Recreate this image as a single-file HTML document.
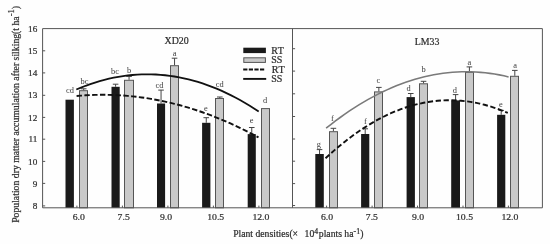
<!DOCTYPE html><html><head><meta charset="utf-8"><title>Population dry matter accumulation after silking</title><style>html,body{margin:0;padding:0;background:#fefefe;}svg{display:block;filter:blur(0.35px)}text{font-family:"Liberation Serif","Times New Roman",serif;fill:#2e2e2e;stroke:#2e2e2e;stroke-width:0.22px;}text.l{fill:#3a3a3a;stroke:none}</style></head><body>
<svg width="550" height="244" viewBox="0 0 550 244">
<rect width="550" height="244" fill="#fefefe"/>
<rect x="65.50" y="99.70" width="8.40" height="108.10" fill="#1a1a1a"/>
<rect x="79.50" y="90.70" width="8.00" height="117.10" fill="#c9c9c9" stroke="#555" stroke-width="1"/>
<path d="M83.70 90.20V88.80M80.90 88.80H86.50" stroke="#444" stroke-width="1" fill="none"/>
<rect x="111.50" y="86.80" width="8.20" height="121.00" fill="#1a1a1a"/>
<rect x="124.50" y="80.30" width="9.00" height="127.50" fill="#c9c9c9" stroke="#555" stroke-width="1"/>
<path d="M115.60 86.80V84.20M112.80 84.20H118.40" stroke="#444" stroke-width="1" fill="none"/>
<path d="M129.05 79.80V76.40M126.25 76.40H131.85" stroke="#444" stroke-width="1" fill="none"/>
<rect x="157.00" y="103.50" width="8.10" height="104.30" fill="#1a1a1a"/>
<rect x="170.50" y="65.70" width="8.00" height="142.10" fill="#c9c9c9" stroke="#555" stroke-width="1"/>
<path d="M161.05 103.50V90.10M158.25 90.10H163.85" stroke="#444" stroke-width="1" fill="none"/>
<path d="M174.55 65.20V58.20M171.75 58.20H177.35" stroke="#444" stroke-width="1" fill="none"/>
<rect x="202.10" y="122.80" width="8.30" height="85.00" fill="#1a1a1a"/>
<rect x="215.50" y="98.50" width="8.00" height="109.30" fill="#c9c9c9" stroke="#555" stroke-width="1"/>
<path d="M206.25 122.80V117.70M203.45 117.70H209.05" stroke="#444" stroke-width="1" fill="none"/>
<path d="M219.80 98.00V97.00M217.00 97.00H222.60" stroke="#444" stroke-width="1" fill="none"/>
<rect x="247.70" y="134.10" width="8.10" height="73.70" fill="#1a1a1a"/>
<rect x="261.50" y="108.60" width="8.00" height="99.20" fill="#c9c9c9" stroke="#555" stroke-width="1"/>
<path d="M251.75 134.10V127.50M248.95 127.50H254.55" stroke="#444" stroke-width="1" fill="none"/>
<rect x="315.30" y="154.00" width="8.50" height="53.80" fill="#1a1a1a"/>
<rect x="329.50" y="131.70" width="8.00" height="76.10" fill="#c9c9c9" stroke="#555" stroke-width="1"/>
<path d="M319.55 154.00V149.60M316.75 149.60H322.35" stroke="#444" stroke-width="1" fill="none"/>
<path d="M333.40 131.20V128.30M330.60 128.30H336.20" stroke="#444" stroke-width="1" fill="none"/>
<rect x="361.10" y="134.00" width="8.20" height="73.80" fill="#1a1a1a"/>
<rect x="374.50" y="91.90" width="8.00" height="115.90" fill="#c9c9c9" stroke="#555" stroke-width="1"/>
<path d="M365.20 134.00V128.80M362.40 128.80H368.00" stroke="#444" stroke-width="1" fill="none"/>
<path d="M378.85 91.40V87.40M376.05 87.40H381.65" stroke="#444" stroke-width="1" fill="none"/>
<rect x="406.60" y="97.10" width="8.30" height="110.70" fill="#1a1a1a"/>
<rect x="419.50" y="83.80" width="8.00" height="124.00" fill="#c9c9c9" stroke="#555" stroke-width="1"/>
<path d="M410.75 97.10V93.50M407.95 93.50H413.55" stroke="#444" stroke-width="1" fill="none"/>
<path d="M423.55 83.30V81.30M420.75 81.30H426.35" stroke="#444" stroke-width="1" fill="none"/>
<rect x="451.20" y="100.40" width="8.80" height="107.40" fill="#1a1a1a"/>
<rect x="465.50" y="72.40" width="8.00" height="135.40" fill="#c9c9c9" stroke="#555" stroke-width="1"/>
<path d="M455.60 100.40V94.60M452.80 94.60H458.40" stroke="#444" stroke-width="1" fill="none"/>
<path d="M469.40 71.90V66.90M466.60 66.90H472.20" stroke="#444" stroke-width="1" fill="none"/>
<rect x="497.10" y="114.80" width="8.20" height="93.00" fill="#1a1a1a"/>
<rect x="510.50" y="76.30" width="8.00" height="131.50" fill="#c9c9c9" stroke="#555" stroke-width="1"/>
<path d="M501.20 114.80V110.40M498.40 110.40H504.00" stroke="#444" stroke-width="1" fill="none"/>
<path d="M514.80 75.80V70.40M512.00 70.40H517.60" stroke="#444" stroke-width="1" fill="none"/>
<path d="M76.30 89.52 L80.98 87.59 L85.65 85.78 L90.33 84.11 L95.01 82.57 L99.68 81.16 L104.36 79.88 L109.04 78.74 L113.72 77.72 L118.39 76.84 L123.07 76.09 L127.75 75.47 L132.42 74.98 L137.10 74.63 L141.78 74.40 L146.45 74.31 L151.13 74.34 L155.81 74.51 L160.48 74.81 L165.16 75.25 L169.84 75.81 L174.52 76.51 L179.19 77.33 L183.87 78.29 L188.55 79.38 L193.22 80.60 L197.90 81.96 L202.58 83.44 L207.25 85.06 L211.93 86.80 L216.61 88.68 L221.28 90.69 L225.96 92.83 L230.64 95.11 L235.32 97.51 L239.99 100.05 L244.67 102.72 L249.35 105.52 L254.02 108.45 L258.70 111.51" fill="none" stroke="#111" stroke-width="1.8"/>
<path d="M76.30 96.05 L80.97 95.65 L85.64 95.32 L90.32 95.08 L94.99 94.91 L99.66 94.82 L104.33 94.80 L109.00 94.86 L113.67 95.00 L118.35 95.22 L123.02 95.51 L127.69 95.88 L132.36 96.33 L137.03 96.85 L141.71 97.45 L146.38 98.13 L151.05 98.88 L155.72 99.71 L160.39 100.62 L165.06 101.61 L169.74 102.67 L174.41 103.81 L179.08 105.02 L183.75 106.31 L188.42 107.68 L193.09 109.13 L197.77 110.65 L202.44 112.25 L207.11 113.93 L211.78 115.68 L216.45 117.51 L221.13 119.42 L225.80 121.41 L230.47 123.47 L235.14 125.61 L239.81 127.82 L244.48 130.11 L249.16 132.48 L253.83 134.93 L258.50 137.45" fill="none" stroke="#111" stroke-width="1.9" stroke-dasharray="5.4 2.4" stroke-dashoffset="-0.3"/>
<path d="M326.10 128.24 L330.78 124.53 L335.46 120.95 L340.14 117.49 L344.82 114.16 L349.50 110.96 L354.18 107.88 L358.86 104.93 L363.54 102.10 L368.22 99.40 L372.89 96.83 L377.57 94.38 L382.25 92.06 L386.93 89.86 L391.61 87.79 L396.29 85.84 L400.97 84.02 L405.65 82.33 L410.33 80.76 L415.01 79.32 L419.69 78.00 L424.37 76.81 L429.05 75.75 L433.73 74.81 L438.41 74.00 L443.09 73.31 L447.77 72.75 L452.45 72.31 L457.13 72.00 L461.81 71.82 L466.48 71.76 L471.16 71.83 L475.84 72.03 L480.52 72.35 L485.20 72.79 L489.88 73.36 L494.56 74.06 L499.24 74.88 L503.92 75.83 L508.60 76.91" fill="none" stroke="#7a7a7a" stroke-width="1.6"/>
<path d="M325.50 158.32 L330.17 154.03 L334.85 149.90 L339.52 145.94 L344.20 142.15 L348.87 138.52 L353.55 135.05 L358.22 131.75 L362.89 128.61 L367.57 125.64 L372.24 122.83 L376.92 120.18 L381.59 117.70 L386.27 115.39 L390.94 113.24 L395.62 111.25 L400.29 109.43 L404.96 107.77 L409.64 106.28 L414.31 104.95 L418.99 103.79 L423.66 102.79 L428.34 101.95 L433.01 101.28 L437.68 100.78 L442.36 100.43 L447.03 100.26 L451.71 100.25 L456.38 100.40 L461.06 100.71 L465.73 101.20 L470.41 101.84 L475.08 102.65 L479.75 103.63 L484.43 104.76 L489.10 106.07 L493.78 107.54 L498.45 109.17 L503.13 110.97 L507.80 112.93" fill="none" stroke="#111" stroke-width="1.9" stroke-dasharray="5.3 2.6"/>
<path d="M42.6 28.6H542.4V207.8H42.6Z M292.5 28.6V207.8" fill="none" stroke="#555" stroke-width="1"/>
<path d="M42.6 50.8h2.6M42.6 72.9h2.6M42.6 95.3h2.6M42.6 117.4h2.6M42.6 139.2h2.6M42.6 161.4h2.6M42.6 183.4h2.6M42.6 205.9h2.6M292.5 48.7h2.6M292.5 71.1h2.6M292.5 93.8h2.6M292.5 116.5h2.6M292.5 139.0h2.6M292.5 161.2h2.6M292.5 183.6h2.6M292.5 205.5h2.6M76.9 207.8v-2.2M326.6 207.8v-2.2M122.4 207.8v-2.2M372.1 207.8v-2.2M167.9 207.8v-2.2M417.5 207.8v-2.2M213.4 207.8v-2.2M463.0 207.8v-2.2M258.9 207.8v-2.2M508.4 207.8v-2.2" fill="none" stroke="#555" stroke-width="1"/>
<text x="37.3" y="31.7" font-size="9.2" text-anchor="end">16</text>
<text x="37.3" y="53.9" font-size="9.2" text-anchor="end">15</text>
<text x="37.3" y="76.0" font-size="9.2" text-anchor="end">14</text>
<text x="37.3" y="98.4" font-size="9.2" text-anchor="end">13</text>
<text x="37.3" y="120.5" font-size="9.2" text-anchor="end">12</text>
<text x="37.3" y="142.3" font-size="9.2" text-anchor="end">11</text>
<text x="37.3" y="164.5" font-size="9.2" text-anchor="end">10</text>
<text x="37.3" y="186.5" font-size="9.2" text-anchor="end">9</text>
<text x="37.3" y="209.0" font-size="9.2" text-anchor="end">8</text>
<text transform="translate(78.8 220.1) scale(1.06 1)" font-size="9.2" text-anchor="middle">6.0</text>
<text transform="translate(123.7 220.1) scale(1.06 1)" font-size="9.2" text-anchor="middle">7.5</text>
<text transform="translate(166.0 220.1) scale(1.06 1)" font-size="9.2" text-anchor="middle">9.0</text>
<text transform="translate(215.7 220.1) scale(1.06 1)" font-size="9.2" text-anchor="middle">10.5</text>
<text transform="translate(260.9 220.1) scale(1.06 1)" font-size="9.2" text-anchor="middle">12.0</text>
<text transform="translate(327.0 220.1) scale(1.06 1)" font-size="9.2" text-anchor="middle">6.0</text>
<text transform="translate(371.9 220.1) scale(1.06 1)" font-size="9.2" text-anchor="middle">7.5</text>
<text transform="translate(418.0 220.1) scale(1.06 1)" font-size="9.2" text-anchor="middle">9.0</text>
<text transform="translate(464.5 220.1) scale(1.06 1)" font-size="9.2" text-anchor="middle">10.5</text>
<text transform="translate(509.9 220.1) scale(1.06 1)" font-size="9.2" text-anchor="middle">12.0</text>
<text x="176.6" y="43.8" font-size="9.9" text-anchor="middle">XD20</text>
<text x="427.0" y="45.0" font-size="9.9" text-anchor="middle">LM33</text>
<rect x="243.3" y="47.7" width="22.6" height="5.4" fill="#1a1a1a"/>
<rect x="243.8" y="57.8" width="21.6" height="4.6" fill="#c9c9c9" stroke="#555" stroke-width="1"/>
<path d="M243.2 69.5H264.2" stroke="#111" stroke-width="1.9" stroke-dasharray="4.2 1.4" fill="none"/>
<path d="M243.2 78.9H266.2" stroke="#111" stroke-width="1.9" fill="none"/>
<text transform="translate(271.2 53.5) scale(1.05 1)" font-size="9.5" text-anchor="start" style="font-kerning:none">RT</text>
<text transform="translate(271.2 63.0) scale(1.05 1)" font-size="9.5" text-anchor="start">SS</text>
<text transform="translate(271.7 72.5) scale(1.07 1)" font-size="9.5" text-anchor="start" style="font-kerning:none">RT</text>
<text transform="translate(271.2 81.8) scale(1.05 1)" font-size="9.5" text-anchor="start">SS</text>
<text x="69.9" y="93.1" font-size="8.4" text-anchor="middle" class="l">cd</text>
<text x="84.5" y="83.5" font-size="8.4" text-anchor="middle" class="l">bc</text>
<text x="114.9" y="73.7" font-size="8.4" text-anchor="middle" class="l">bc</text>
<text x="129.1" y="72.5" font-size="8.4" text-anchor="middle" class="l">b</text>
<text x="159.4" y="87.5" font-size="8.4" text-anchor="middle" class="l">cd</text>
<text x="174.5" y="55.9" font-size="8.4" text-anchor="middle" class="l">a</text>
<text x="205.8" y="111.1" font-size="8.4" text-anchor="middle" class="l">e</text>
<text x="219.7" y="87.2" font-size="8.4" text-anchor="middle" class="l">cd</text>
<text x="251.6" y="123.4" font-size="8.4" text-anchor="middle" class="l">e</text>
<text x="265.0" y="103.3" font-size="8.4" text-anchor="middle" class="l">d</text>
<text x="332.5" y="120.6" font-size="8.4" text-anchor="middle" class="l">f</text>
<text x="365.4" y="123.9" font-size="8.4" text-anchor="middle" class="l">f</text>
<text x="378.4" y="83.4" font-size="8.4" text-anchor="middle" class="l">c</text>
<text x="408.6" y="90.7" font-size="8.4" text-anchor="middle" class="l">d</text>
<text x="423.7" y="72.2" font-size="8.4" text-anchor="middle" class="l">b</text>
<text x="454.8" y="92.5" font-size="8.4" text-anchor="middle" class="l">d</text>
<text x="469.3" y="64.6" font-size="8.4" text-anchor="middle" class="l">a</text>
<text x="500.8" y="106.5" font-size="8.4" text-anchor="middle" class="l">e</text>
<text x="515.0" y="67.8" font-size="8.4" text-anchor="middle" class="l">a</text>
<text x="318.9" y="146.9" font-size="8.4" text-anchor="middle" class="l">g</text>
<text x="233.15" y="236.8" font-size="9.7" xml:space="preserve">Plant densities(×  <tspan dx="1.6">10</tspan><tspan font-size="7.8" dy="-2.5">4</tspan><tspan dy="2.5" dx="0.7">plants ha</tspan><tspan font-size="7.8" dy="-2.5">-1</tspan><tspan dy="2.5" dx="0.3">)</tspan></text>
<text transform="translate(18.9 222.85) rotate(-90)" font-size="9.74" xml:space="preserve">Population dry matter accumulation after silking(t ha<tspan font-size="8.5" dy="-5.2">-1</tspan><tspan dy="5.2">)</tspan></text>
</svg></body></html>
